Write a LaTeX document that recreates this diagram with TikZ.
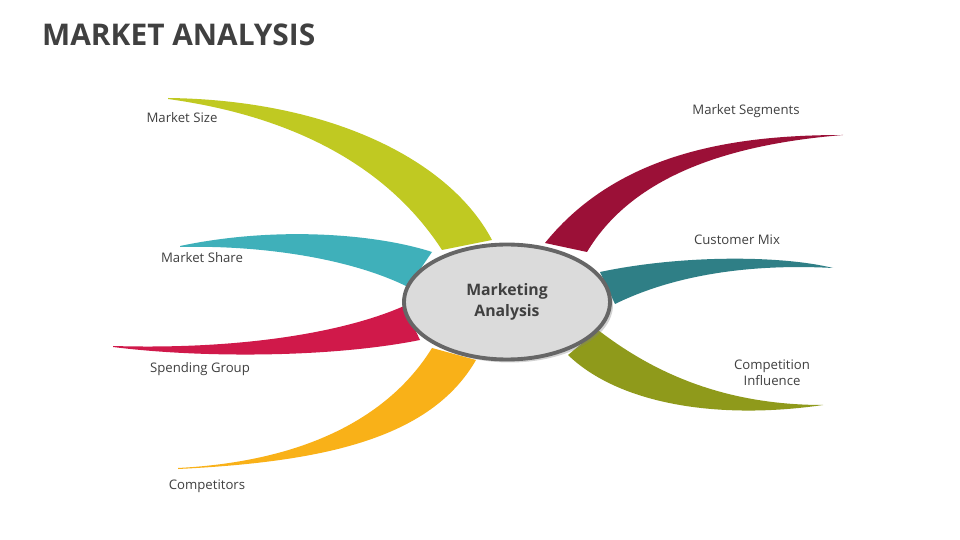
\documentclass[tikz,border=0pt]{standalone}
\usepackage{fontspec}
\setmainfont{Open Sans}
\usetikzlibrary{shadows,shapes.geometric}
\definecolor{cYG}{HTML}{C0C922}
\definecolor{cTeal}{HTML}{3FB0BA}
\definecolor{cCrim}{HTML}{D0194A}
\definecolor{cOra}{HTML}{F9B118}
\definecolor{cWine}{HTML}{9B1037}
\definecolor{cDTeal}{HTML}{2F7F86}
\definecolor{cOlive}{HTML}{8F9A1B}
\definecolor{txt}{HTML}{404040}
\tikzset{lbl/.style={font=\fontsize{7.5}{9}\selectfont,text=txt,align=center}}
\begin{document}
\begin{tikzpicture}[x=0.02cm,y=-0.02cm]
\useasboundingbox (0,0) rectangle (960,540);
\fill[white] (0,0) rectangle (960,540);
\node[anchor=west,font=\fontsize{17}{20}\selectfont\bfseries,text=txt] (title) at (36,35) {MARKET ANALYSIS};
% ribbons
\fill[cYG] (168,98) .. controls (330,100) and (450,160) .. (492,240) -- (442,250) .. controls (400,185) and (320,120) .. (168,99) -- cycle;
\fill[cTeal] (180,246) .. controls (280,225) and (380,235) .. (432,252) -- (408,287) .. controls (350,258) and (260,245) .. (180,247) -- cycle;
\fill[cCrim] (113,346) .. controls (250,350) and (350,330) .. (404,306) -- (420,340) .. controls (330,358) and (200,358) .. (113,347) -- cycle;
\fill[cOra] (178,468) .. controls (330,460) and (400,400) .. (432,348) -- (476,360) .. controls (430,440) and (320,462) .. (178,469) -- cycle;
\fill[cWine] (545,243) .. controls (620,150) and (740,135) .. (843,135) .. controls (720,145) and (630,180) .. (587,252) -- cycle;
\fill[cDTeal] (600,272) .. controls (680,255) and (780,255) .. (833,268) .. controls (760,264) and (680,272) .. (615,304) -- cycle;
\fill[cOlive] (598,330) .. controls (650,370) and (720,405) .. (823,405) .. controls (720,420) and (620,405) .. (568,355) -- cycle;
% center
\node[ellipse,draw=gray!80!black,line width=2.2pt,fill=gray!28,
  inner sep=0pt, minimum width=4.12cm, minimum height=2.3cm, drop shadow={opacity=0.35,shadow xshift=0.06cm,shadow yshift=-0.06cm},
  font=\fontsize{9}{12}\selectfont\bfseries,text=txt,align=center] (c) at (507,302) {Marketing\\Analysis};
% labels
\node[lbl] (l1) at (182,118) {Market Size};
\node[lbl] (l2) at (202,258) {Market Share};
\node[lbl] (l3) at (200,369) {Spending Group};
\node[lbl] (l4) at (207,486) {Competitors};
\node[lbl] (l5) at (746,111) {Market Segments};
\node[lbl] (l6) at (737,240) {Customer Mix};
\node[lbl] (l7) at (772,373) {Competition\\Influence};
\end{tikzpicture}
\end{document}
